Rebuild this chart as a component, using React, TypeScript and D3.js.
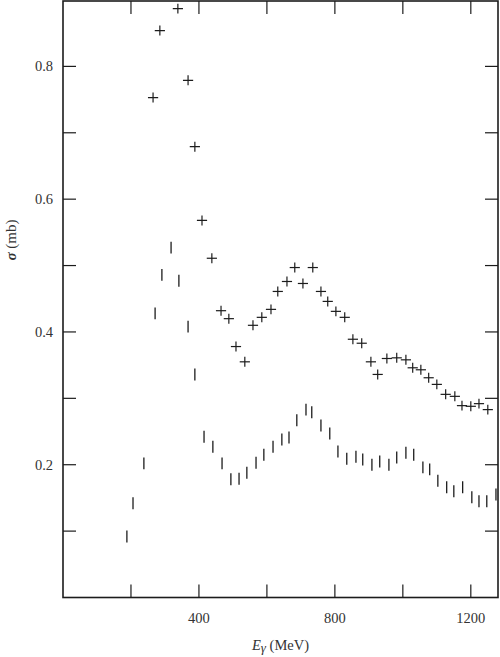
// Photon cross section plot drawn with D3

import React, { useEffect, useRef } from 'react'
import * as d3 from 'd3'

// Upper series (crosses): photon energy in MeV and cross section in mb
const upperE = [
  265, 285, 338, 368, 388, 409, 438, 465, 488, 509, 535, 559, 585, 612, 632, 659, 682, 706, 735, 759,
  779, 803, 829, 853, 879, 906, 926, 953, 982, 1009, 1029, 1053, 1076, 1100, 1126, 1153, 1174, 1200,
  1224, 1250,
]
const upperSigma = [
  0.753, 0.854, 0.887, 0.779, 0.679, 0.568, 0.511, 0.432, 0.42, 0.378, 0.355, 0.41, 0.422, 0.434,
  0.461, 0.476, 0.497, 0.473, 0.497, 0.461, 0.446, 0.431, 0.422, 0.389, 0.383, 0.355, 0.336, 0.36,
  0.361, 0.358, 0.346, 0.343, 0.331, 0.321, 0.306, 0.303, 0.289, 0.288, 0.292, 0.283,
]

// Lower series (vertical error bars only)
const lowerE = [
  188, 206, 238, 271, 291, 318, 341, 368, 388, 415, 441, 468, 494, 518, 541, 568, 591, 618, 644, 665,
  688, 715, 732, 759, 785, 809, 835, 862, 882, 909, 932, 959, 982, 1009, 1032, 1059, 1079, 1103, 1129,
  1150, 1176, 1203, 1224, 1247, 1274,
]
const lowerSigma = [
  0.092, 0.142, 0.202, 0.428, 0.486, 0.527, 0.477, 0.408, 0.336, 0.242, 0.227, 0.202, 0.178, 0.179,
  0.188, 0.203, 0.215, 0.227, 0.238, 0.241, 0.267, 0.283, 0.279, 0.259, 0.247, 0.22, 0.209, 0.212,
  0.208, 0.2, 0.205, 0.2, 0.211, 0.218, 0.215, 0.196, 0.193, 0.176, 0.166, 0.16, 0.166, 0.151, 0.145,
  0.145, 0.155,
]

// Error sizes
const errE = 15
const errSigmaUpper = 0.0075
const errSigmaLower = 0.009

// Ticks
const xTicks = [200, 400, 600, 800, 1000, 1200]
const xLabels = [400, 800, 1200]
const yTicks = [0.1, 0.2, 0.3, 0.4, 0.5, 0.6, 0.7, 0.8]
const yLabels = [0.2, 0.4, 0.6, 0.8]

const W = 500
const H = 657
const left = 63
const right = 498
const top = 1
const bottom = 597.5
const tickLen = 13
const ink = '#1c1c1c'
const font = '"Liberation Serif", "DejaVu Serif", serif'

const draw = (el: SVGSVGElement) => {
  const svg = d3.select(el)
  svg.selectAll('*').remove()

  const x = d3.scaleLinear().domain([0, 1280]).range([left, right])
  const y = d3.scaleLinear().domain([0, 0.9]).range([bottom, 0])

  // Frame
  svg
    .append('rect')
    .attr('x', left)
    .attr('y', top)
    .attr('width', right - left)
    .attr('height', bottom - top)
    .attr('fill', 'none')
    .attr('stroke', ink)
    .attr('stroke-width', 1.6)

  const ticks = svg.append('g').attr('stroke', ink).attr('stroke-width', 1.2)

  // Inward ticks, bottom and top
  ticks
    .selectAll('line.xb')
    .data(xTicks)
    .join('line')
    .attr('x1', d => x(d))
    .attr('x2', d => x(d))
    .attr('y1', bottom)
    .attr('y2', bottom - tickLen)
  ticks
    .selectAll('line.xt')
    .data(xTicks)
    .join('line')
    .attr('class', 'xt')
    .attr('x1', d => x(d))
    .attr('x2', d => x(d))
    .attr('y1', top)
    .attr('y2', top + tickLen)

  // Inward ticks, left and right
  ticks
    .selectAll('line.yl')
    .data(yTicks)
    .join('line')
    .attr('class', 'yl')
    .attr('x1', left)
    .attr('x2', left + tickLen)
    .attr('y1', d => y(d))
    .attr('y2', d => y(d))
  ticks
    .selectAll('line.yr')
    .data(yTicks)
    .join('line')
    .attr('class', 'yr')
    .attr('x1', right)
    .attr('x2', right - tickLen)
    .attr('y1', d => y(d))
    .attr('y2', d => y(d))

  // Tick labels
  svg
    .append('g')
    .selectAll('text')
    .data(xLabels)
    .join('text')
    .attr('x', d => x(d))
    .attr('y', 623)
    .attr('text-anchor', 'middle')
    .style('font-family', font)
    .style('font-size', '14.5px')
    .style('fill', '#333')
    .text(d => d)

  svg
    .append('g')
    .selectAll('text')
    .data(yLabels)
    .join('text')
    .attr('x', 53)
    .attr('y', d => y(d))
    .attr('dy', '0.35em')
    .attr('text-anchor', 'end')
    .style('font-family', font)
    .style('font-size', '14.5px')
    .style('fill', '#333')
    .text(d => d3.format('.1f')(d))

  // Axis titles
  const yTitle = svg
    .append('text')
    .attr('transform', 'translate(16, 240) rotate(-90)')
    .attr('text-anchor', 'middle')
    .style('font-family', font)
    .style('font-size', '15px')
    .style('fill', '#333')
  yTitle.append('tspan').style('font-style', 'italic').style('font-weight', 'bold').text('σ')
  yTitle.append('tspan').text(' (mb)')

  const xTitle = svg
    .append('text')
    .attr('x', (left + right) / 2)
    .attr('y', 650)
    .attr('text-anchor', 'middle')
    .style('font-family', font)
    .style('font-size', '14.5px')
    .style('fill', '#333')
  xTitle.append('tspan').style('font-style', 'italic').text('E')
  xTitle.append('tspan').style('font-style', 'italic').style('font-size', '13px').attr('dy', 2).text('γ')
  xTitle.append('tspan').attr('dy', -2).text(' (MeV)')

  // Data, clipped to the frame
  svg
    .append('clipPath')
    .attr('id', 'plot-clip')
    .append('rect')
    .attr('x', left)
    .attr('y', top)
    .attr('width', right - left)
    .attr('height', bottom - top)

  const marks = svg
    .append('g')
    .attr('clip-path', 'url(#plot-clip)')
    .attr('stroke', ink)
    .attr('stroke-width', 1.2)

  const upper = d3.zip(upperE, upperSigma)
  const cross = marks.selectAll('g.cross').data(upper).join('g').attr('class', 'cross')
  cross
    .append('line')
    .attr('x1', d => x(d[0] - errE))
    .attr('x2', d => x(d[0] + errE))
    .attr('y1', d => y(d[1]))
    .attr('y2', d => y(d[1]))
  cross
    .append('line')
    .attr('x1', d => x(d[0]))
    .attr('x2', d => x(d[0]))
    .attr('y1', d => y(d[1] - errSigmaUpper))
    .attr('y2', d => y(d[1] + errSigmaUpper))

  const lower = d3.zip(lowerE, lowerSigma)
  marks
    .selectAll('line.bar')
    .data(lower)
    .join('line')
    .attr('class', 'bar')
    .attr('stroke-width', 1.3)
    .attr('x1', d => x(d[0]))
    .attr('x2', d => x(d[0]))
    .attr('y1', d => y(d[1] - errSigmaLower))
    .attr('y2', d => y(d[1] + errSigmaLower))
}

export default function App() {
  const ref = useRef<SVGSVGElement>(null)

  useEffect(() => {
    document.body.style.margin = '0'
    if (ref.current) draw(ref.current)
  }, [])

  return <svg ref={ref} width={W} height={H} style={{ display: 'block', background: '#fff' }} />
}
